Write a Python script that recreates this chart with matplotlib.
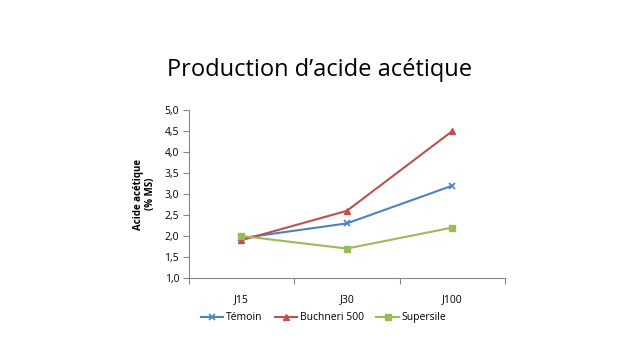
import matplotlib
matplotlib.use("Agg")
import matplotlib.pyplot as plt
from matplotlib.ticker import FixedLocator, FuncFormatter

categories = ["J15", "J30", "J100"]
temoin = [1.95, 2.3, 3.2]
buchneri = [1.9, 2.6, 4.5]
supersile = [2.0, 1.7, 2.2]
series_names = ["Témoin", "Buchneri 500", "Supersile"]
yticks = [1.0, 1.5, 2.0, 2.5, 3.0, 3.5, 4.0, 4.5, 5.0]

plt.rcParams['font.family'] = ['Open Sans', 'DejaVu Sans']

fig = plt.figure(figsize=(6.4, 3.6), dpi=100)
ax = fig.add_axes([0.295, 0.228, 0.494, 0.466])

x = [i + 0.5 for i in range(len(categories))]
ax.plot(x, temoin, color="#4f81bd", marker="x", markersize=5, mew=1.2, lw=1.5, label=series_names[0])
ax.plot(x, buchneri, color="#c0504d", marker="^", markersize=5, lw=1.5, label=series_names[1])
ax.plot(x, supersile, color="#9bbb59", marker="s", markersize=5, lw=1.5, label=series_names[2])

ax.set_xlim(0, 3)
ax.set_ylim(1.0, 5.0)
ax.yaxis.set_major_locator(FixedLocator(yticks))
ax.yaxis.set_major_formatter(FuncFormatter(lambda v, p: f"{v:.1f}".replace(".", ",")))
ax.tick_params(axis="y", labelsize=7.5)
ax.xaxis.set_major_locator(FixedLocator([0, 1, 2, 3]))
ax.set_xticklabels([])
ax.xaxis.set_minor_locator(FixedLocator(x))
ax.set_xticklabels(categories, minor=True, fontsize=7.5)
ax.tick_params(axis="x", which="minor", length=0, pad=12)
ax.tick_params(axis="x", which="major", length=4, color="#888888")
ax.tick_params(axis="y", length=4, color="#888888", pad=3)
for s in ["top", "right"]:
    ax.spines[s].set_visible(False)
for s in ["left", "bottom"]:
    ax.spines[s].set_color("#888888")
    ax.spines[s].set_linewidth(0.8)

ax.set_ylabel("Acide acétique\n(% MS)", fontsize=7, fontweight="bold", labelpad=6, linespacing=1.1)

fig.text(0.5, 0.805, "Production d\u2019acide acétique", ha="center", va="center", fontsize=17)

fig.legend(loc="center", bbox_to_anchor=(0.505, 0.117), ncol=3, frameon=False, fontsize=7.5,
           handlelength=2.2, columnspacing=1.2, handletextpad=0.2)

fig.savefig("out.png", dpi=100, facecolor="white")
